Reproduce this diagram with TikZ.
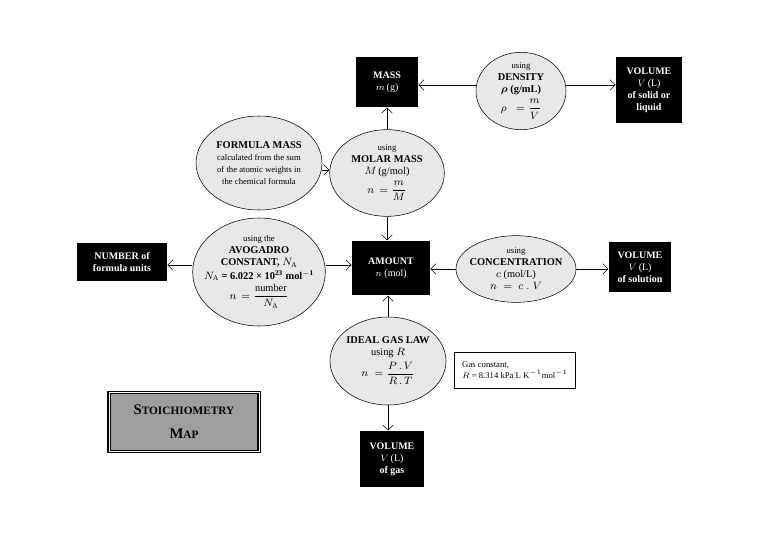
\documentclass[tikz,border=0pt]{standalone}
\usepackage{amsmath}
\usepackage{fontspec}
\setmainfont{Liberation Serif}
\usetikzlibrary{arrows.meta, shapes.geometric, positioning, calc}
\definecolor{ellgray}{RGB}{232,232,232}
\definecolor{mapgray}{RGB}{158,158,158}

\begin{document}
\begin{tikzpicture}[
  x=0.75pt, y=-0.75pt,
  qtybox/.style={fill=black, text=white, font=\fontsize{7.5}{9}\selectfont, align=center, inner sep=1pt},
  methodell/.style={ellipse, draw, fill=ellgray, font=\fontsize{7.8}{9}\selectfont, align=center, inner sep=-3pt},
  notebox/.style={draw, fill=white, font=\fontsize{6.5}{8}\selectfont, align=left, inner sep=2pt},
  titlebox/.style={draw, line width=1pt, double=white, double distance=0.6pt, fill=mapgray, align=center, font=\bfseries},
  conv/.style={-{Straight Barb[length=4pt,width=8pt]}, thin},
]
\useasboundingbox (0,0) rectangle (768,543);

% Quantities
\node[qtybox, minimum width=46.5pt, minimum height=37.5pt] (mass) at (387,82) {\textbf{MASS}\\$m$\,(g)};
\node[qtybox, minimum width=49.5pt, minimum height=49.5pt] (volsl) at (649,90) {\textbf{VOLUME}\\$V$\,(L)\\\textbf{of solid or}\\\textbf{liquid}};
\node[qtybox, minimum width=58.5pt, minimum height=41pt] (amount) at (391,268) {\textbf{AMOUNT}\\$n$ (mol)};
\node[qtybox, minimum width=67.5pt, minimum height=28pt] (number) at (122,262) {\textbf{NUMBER of}\\\textbf{formula units}};
\node[qtybox, minimum width=47pt, minimum height=37.5pt] (volsol) at (640,267) {\textbf{VOLUME}\\$V$\,(L)\\\textbf{of solution}};
\node[qtybox, minimum width=48pt, minimum height=42pt] (volgas) at (392,459) {\textbf{VOLUME}\\$V$\,(L)\\\textbf{of gas}};

% Methods
\node[methodell, minimum width=67.5pt, minimum height=58pt] (dens) at (521,91)
  {{\fontsize{6.5}{7.5}\selectfont using}\\\textbf{DENSITY}\\$\boldsymbol{\rho}$ \textbf{(g/mL)}\\[2pt]$\rho\;\;=\dfrac{m}{V}$};
\node[methodell, minimum width=94.5pt, minimum height=70.5pt] (fmass) at (259,163)
  {\textbf{FORMULA MASS}\\{\fontsize{6.5}{7.5}\selectfont calculated from the sum}\\{\fontsize{6.5}{7.5}\selectfont of the atomic weights in}\\{\fontsize{6.5}{7.5}\selectfont the chemical formula}};
\node[methodell, minimum width=86pt, minimum height=65pt] (molar) at (387,173)
  {{\fontsize{6.5}{7.5}\selectfont using}\\\textbf{MOLAR MASS}\\$M$\,(g/mol)\\[2pt]$n\,=\dfrac{m}{M}$};
\node[methodell, minimum width=97pt, minimum height=81pt, inner sep=-6pt] (avog) at (259,272)
  {{\fontsize{6.5}{7.5}\selectfont using the}\\\textbf{AVOGADRO}\\\textbf{CONSTANT,} $N_{\mathrm{A}}$\\[1pt]$N_{\mathrm{A}}$ \textbf{= 6.022 × 10}$^{\mathbf{23}}$ \textbf{mol}$^{\mathbf{-1}}$\\[2pt]$n\,=\dfrac{\text{number}}{N_{\mathrm{A}}}$};
\node[methodell, minimum width=90pt, minimum height=50pt, inner sep=-4pt] (conc) at (516,269)
  {{\fontsize{6.5}{7.5}\selectfont using}\\\textbf{CONCENTRATION}\\$c$ (mol/L)\\$n\;=\;c\;.\;V$};
\node[methodell, minimum width=87pt, minimum height=66pt] (gas) at (388,361)
  {\textbf{IDEAL GAS LAW}\\using $R$\\[2pt]$n\;=\dfrac{P\,.\,V}{R\,.\,T}$};

% Note and title
\node[notebox, minimum width=91pt, minimum height=27pt] (rconst) at (515,370)
  {Gas constant,\\$R$ = 8.314 kPa L K$^{-1}$mol$^{-1}$};
\node[titlebox, minimum width=112.5pt, minimum height=44pt] (title) at (184,422)
  {\fontsize{11}{13}\selectfont S{\fontsize{8.5}{10}\selectfont TOICHIOMETRY}\\[6pt]\fontsize{11}{13}\selectfont M{\fontsize{8.5}{10}\selectfont AP}};

% Connectors
\draw[conv] (dens.west |- 0,85) -- (mass.east |- 0,85);
\draw[conv] (dens.east |- 0,85) -- (volsl.west |- 0,85);
\draw[conv] (fmass.east |- 0,170) -- (molar.west |- 0,170);
\draw[conv] (molar.north) -- (mass.south -| molar.north);
\draw[conv] (molar.south) -- (amount.north -| molar.south);
\draw[conv] (avog.east |- 0,265) -- (amount.west |- 0,265);
\draw[conv] (avog.west |- 0,265) -- (number.east |- 0,265);
\draw[conv] (conc.west) -- (amount.east |- conc.west);
\draw[conv] (conc.east) -- (volsol.west |- conc.east);
\draw[conv] (gas.north) -- (amount.south -| gas.north);
\draw[conv] (gas.south) -- (volgas.north -| gas.south);
\end{tikzpicture}
\end{document}
